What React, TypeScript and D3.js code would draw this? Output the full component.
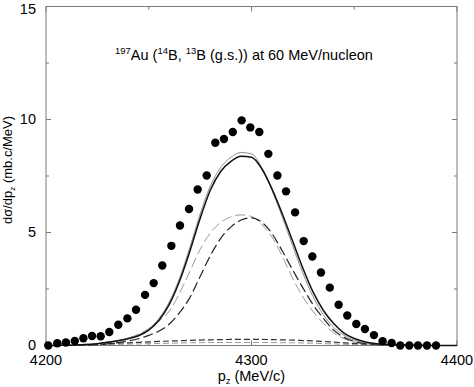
import React, { useEffect, useRef } from 'react'
import * as d3 from 'd3'

// measured points (filled circles)
const expMomentum = [
  4201.1, 4205.5, 4209.7, 4214.0, 4218.2, 4222.4, 4226.6, 4230.8, 4235.2, 4239.6,
  4243.8, 4248.2, 4252.4, 4256.6, 4261.0, 4265.2, 4269.6, 4273.8, 4278.2, 4282.4,
  4286.6, 4290.9, 4295.2, 4299.4, 4303.8, 4308.2, 4312.6, 4316.8, 4321.2, 4325.4,
  4329.6, 4333.8, 4338.1, 4342.4, 4346.6, 4351.0, 4355.2, 4359.6, 4363.8, 4368.2,
  4372.4, 4376.8, 4381.0, 4385.4, 4389.8,
]
const expCross = [
  0.0, 0.1, 0.13, 0.2, 0.32, 0.42, 0.41, 0.6, 0.92, 1.2,
  1.58, 2.24, 2.76, 3.54, 4.41, 5.31, 6.04, 6.9, 7.52, 8.97,
  9.14, 9.45, 9.96, 9.65, 9.45, 8.48, 7.52, 6.82, 5.89, 4.62,
  3.94, 3.23, 2.56, 1.8, 1.33, 0.95, 0.73, 0.46, 0.19, 0.11,
  0.0, 0.0, 0.0, 0.0, 0.0,
]

// calculated curves, sampled every 5 MeV/c
const calcMomentum = [
  4200, 4205, 4210, 4215, 4220, 4225, 4230, 4235, 4240, 4245,
  4250, 4255, 4260, 4265, 4270, 4275, 4280, 4285, 4290, 4295,
  4300, 4305, 4310, 4315, 4320, 4325, 4330, 4335, 4340, 4345,
  4350, 4355, 4360, 4365, 4370, 4375, 4380, 4385, 4390, 4395, 4400,
]
const totalBlack = [
  0, 0, 0.01, 0.02, 0.04, 0.08, 0.14, 0.21, 0.3, 0.43,
  0.68, 1.12, 1.82, 2.85, 4.17, 5.62, 6.88, 7.7, 8.15, 8.37,
  8.33, 7.82, 6.92, 5.82, 4.62, 3.42, 2.36, 1.55, 0.97, 0.55,
  0.31, 0.17, 0.09, 0.05, 0.03, 0.02, 0.01, 0, 0, 0, 0,
]
const totalGrey = [
  0, 0, 0.01, 0.02, 0.04, 0.08, 0.15, 0.23, 0.33, 0.47,
  0.74, 1.2, 1.93, 2.98, 4.34, 5.82, 7.06, 7.88, 8.33, 8.54,
  8.48, 7.88, 6.86, 5.68, 4.42, 3.2, 2.15, 1.36, 0.8, 0.45,
  0.24, 0.13, 0.07, 0.04, 0.02, 0.01, 0.01, 0, 0, 0, 0,
]
const strippingBlack = [
  0, 0, 0, 0.01, 0.02, 0.04, 0.07, 0.13, 0.2, 0.3,
  0.45, 0.64, 0.95, 1.45, 2.12, 3.05, 3.98, 4.74, 5.25, 5.55,
  5.65, 5.45, 4.95, 4.18, 3.35, 2.55, 1.8, 1.2, 0.68, 0.36,
  0.18, 0.09, 0.05, 0.03, 0.02, 0.01, 0, 0, 0, 0, 0,
]
const strippingGrey = [
  0, 0, 0.01, 0.02, 0.04, 0.07, 0.12, 0.2, 0.33, 0.5,
  0.75, 1.08, 1.52, 2.32, 3.28, 4.25, 4.98, 5.45, 5.69, 5.78,
  5.71, 5.34, 4.8, 3.95, 2.98, 2.15, 1.5, 0.98, 0.56, 0.3,
  0.16, 0.08, 0.04, 0.02, 0.01, 0, 0, 0, 0, 0, 0,
]
const diffractionBlack = [
  0.01, 0.01, 0.02, 0.03, 0.05, 0.06, 0.08, 0.1, 0.12, 0.14,
  0.16, 0.18, 0.2, 0.21, 0.23, 0.24, 0.25, 0.26, 0.27, 0.27,
  0.27, 0.27, 0.26, 0.25, 0.24, 0.22, 0.2, 0.18, 0.15, 0.12,
  0.09, 0.06, 0.04, 0.025, 0.015, 0.01, 0.005, 0, 0, 0, 0,
]
const diffractionGrey = [
  0, 0.005, 0.01, 0.015, 0.02, 0.03, 0.04, 0.05, 0.06, 0.07,
  0.08, 0.09, 0.1, 0.11, 0.12, 0.125, 0.13, 0.133, 0.135, 0.135,
  0.135, 0.133, 0.13, 0.125, 0.12, 0.11, 0.1, 0.085, 0.07, 0.055,
  0.04, 0.03, 0.02, 0.015, 0.01, 0.005, 0, 0, 0, 0, 0,
]

const xMajor = [4200, 4300, 4400]
const xMinor = [4250, 4350]
const yMajor = [0, 5, 10, 15]
const yMinor = [2.5, 7.5, 12.5]

const width = 474
const height = 387

const App: React.FC = () => {
  const svgRef = useRef<SVGSVGElement>(null)

  useEffect(() => {
    if (!svgRef.current) return
    const svg = d3.select(svgRef.current)
    svg.selectAll('*').remove()

    const margin = { top: 6.5, right: 17, bottom: 41.5, left: 46 }
    const x = d3.scaleLinear().domain([4200, 4400]).range([margin.left, width - margin.right])
    const y = d3.scaleLinear().domain([0, 15]).range([height - margin.bottom, margin.top])
    const font = '"Liberation Sans", Arial, Helvetica, sans-serif'
    const frame = '#7a7a7a'

    // frame
    svg
      .append('rect')
      .attr('x', x(4200))
      .attr('y', y(15))
      .attr('width', x(4400) - x(4200))
      .attr('height', y(0) - y(15))
      .attr('fill', 'none')
      .attr('stroke', frame)
      .attr('stroke-width', 1)

    // inward ticks on all four sides
    const ticks = svg.append('g').attr('stroke', frame).attr('stroke-width', 1)
    const xt = [...xMajor.map((v) => ({ v, len: 5 })), ...xMinor.map((v) => ({ v, len: 3 }))]
    xt.forEach(({ v, len }) => {
      ticks.append('line').attr('x1', x(v)).attr('x2', x(v)).attr('y1', y(0)).attr('y2', y(0) - len)
      ticks.append('line').attr('x1', x(v)).attr('x2', x(v)).attr('y1', y(15)).attr('y2', y(15) + len)
    })
    const yt = [...yMajor.map((v) => ({ v, len: 5 })), ...yMinor.map((v) => ({ v, len: 3 }))]
    yt.forEach(({ v, len }) => {
      ticks.append('line').attr('y1', y(v)).attr('y2', y(v)).attr('x1', x(4200)).attr('x2', x(4200) + len)
      ticks.append('line').attr('y1', y(v)).attr('y2', y(v)).attr('x1', x(4400)).attr('x2', x(4400) - len)
    })

    // tick labels
    svg
      .selectAll('.xlabel')
      .data(xMajor)
      .enter()
      .append('text')
      .attr('x', (d) => x(d))
      .attr('y', y(0) + 19)
      .attr('text-anchor', 'middle')
      .style('font-family', font)
      .style('font-size', '14.5px')
      .text((d) => d)

    // the top label sits against the page edge, keep it inside
    svg
      .selectAll('.ylabel')
      .data(yMajor)
      .enter()
      .append('text')
      .attr('x', x(4200) - 10)
      .attr('y', (d) => Math.max(y(d) + 4, 13.5))
      .attr('text-anchor', 'end')
      .style('font-family', font)
      .style('font-size', '14.5px')
      .text((d) => d)

    // axis titles
    const xTitle = svg
      .append('text')
      .attr('x', (x(4200) + x(4400)) / 2)
      .attr('y', 381)
      .attr('text-anchor', 'middle')
      .style('font-family', font)
      .style('font-size', '14.5px')
    xTitle.append('tspan').text('p')
    xTitle.append('tspan').attr('dy', 3).style('font-size', '9px').text('z')
    xTitle.append('tspan').attr('dy', -3).text(' (MeV/c)')

    const yTitle = svg
      .append('text')
      .attr('transform', `translate(12, 170) rotate(-90)`)
      .attr('text-anchor', 'middle')
      .style('font-family', font)
      .style('font-size', '13px')
    yTitle.append('tspan').text('dσ/dp')
    yTitle.append('tspan').attr('dy', 3).style('font-size', '8px').text('z')
    yTitle.append('tspan').attr('dy', -3).text(' (mb.c/MeV)')

    // reaction label
    const title = svg
      .append('text')
      .attr('x', 115)
      .attr('y', 60)
      .style('font-family', font)
      .style('font-size', '14.5px')
    const sup = (s: string) => title.append('tspan').attr('dy', -6).style('font-size', '9.5px').text(s)
    const base = (s: string) => title.append('tspan').attr('dy', 6).text(s)
    sup('197')
    base('Au (')
    sup('14')
    base('B, ')
    sup('13')
    base('B (g.s.)) at 60 MeV/nucleon')

    // curves
    const line = (vals: number[]) =>
      d3
        .line<number>()
        .x((_, i) => x(calcMomentum[i]))
        .y((d) => y(d))
        .curve(d3.curveMonotoneX)(vals)

    const curves = [
      { vals: diffractionGrey, color: '#9a9a9a', w: 1, dash: '6,3' },
      { vals: diffractionBlack, color: '#333', w: 1.2, dash: '6,3' },
      { vals: strippingGrey, color: '#9a9a9a', w: 1, dash: '10,4' },
      { vals: strippingBlack, color: '#222', w: 1.2, dash: '10,4' },
      { vals: totalGrey, color: '#8f8f8f', w: 1, dash: null },
      { vals: totalBlack, color: '#111', w: 1.5, dash: null },
    ]
    curves.forEach((c) => {
      const p = svg
        .append('path')
        .attr('d', line(c.vals) || '')
        .attr('fill', 'none')
        .attr('stroke', c.color)
        .attr('stroke-width', c.w)
      if (c.dash) p.attr('stroke-dasharray', c.dash)
    })

    // data points
    svg
      .selectAll('.pt')
      .data(expCross)
      .enter()
      .append('circle')
      .attr('class', 'pt')
      .attr('cx', (_, i) => x(expMomentum[i]))
      .attr('cy', (d) => y(d))
      .attr('r', 4.2)
      .attr('fill', '#000')
  }, [])

  return (
    <svg
      ref={svgRef}
      width={width}
      height={height}
      style={{ position: 'absolute', left: 0, top: 0, background: '#fff' }}
    ></svg>
  )
}

export default App
